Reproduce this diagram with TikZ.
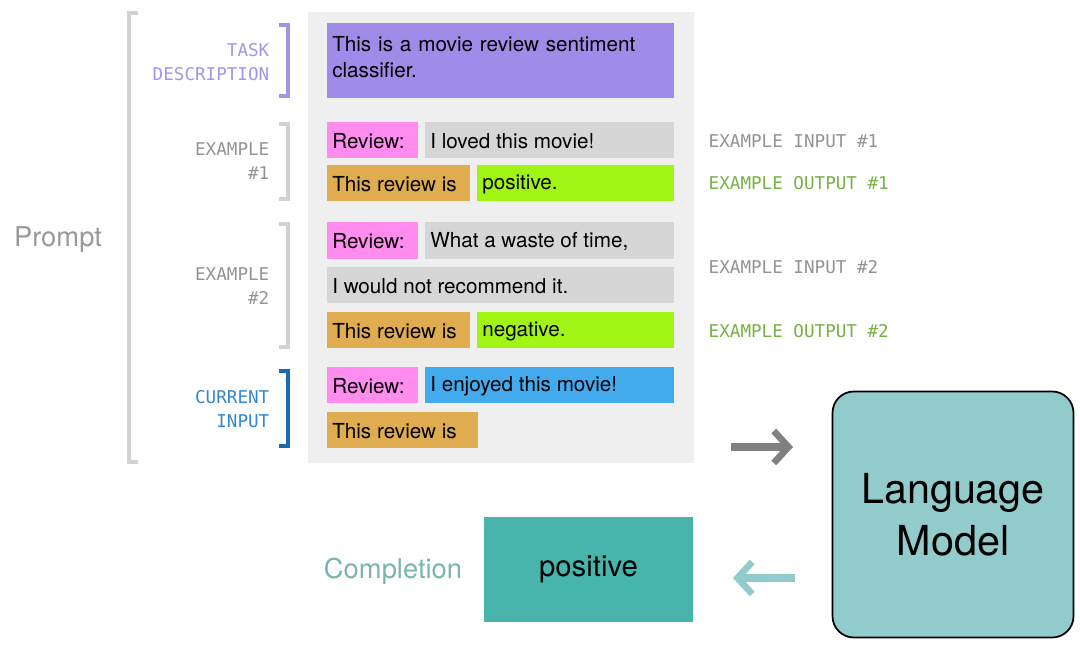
\documentclass[tikz,border=0pt]{standalone}
\usepackage{fontspec}
\setmainfont{TeX Gyre Heros}
\newfontfamily\monof{DejaVu Sans Mono}
\usetikzlibrary{arrows.meta}
\definecolor{panel}{HTML}{EFEFEF}
\definecolor{purp}{HTML}{9F8BE8}
\definecolor{purpt}{HTML}{A394E8}
\definecolor{pink}{HTML}{FF8CEE}
\definecolor{grayb}{HTML}{D6D6D6}
\definecolor{orng}{HTML}{E0AC50}
\definecolor{grn}{HTML}{A0F514}
\definecolor{blu}{HTML}{44AAEE}
\definecolor{blud}{HTML}{1A6AB0}
\definecolor{blut}{HTML}{3388CC}
\definecolor{grnt}{HTML}{77B044}
\definecolor{lm}{HTML}{92CBCC}
\definecolor{comp}{HTML}{47B5AC}
\definecolor{compt}{HTML}{7AB5AD}
\definecolor{brk}{HTML}{D2D2D2}
\begin{document}
\begin{tikzpicture}[x=0.75pt,y=-0.75pt,
 box/.style={inner sep=0pt,font=\fontsize{15.5}{20}\selectfont,text=black},
 lab/.style={font=\monof\fontsize{13.2}{18}\selectfont,align=right,anchor=east},
 rlab/.style={font=\monof\fontsize{13.2}{14}\selectfont,anchor=west},
 br/.style={line width=3pt}]
\useasboundingbox (0,0) rectangle (1080,645);
\fill[panel] (308,12) rectangle (694,463);
\newcommand{\bx}[6]{\fill[#5] (#1,#2) rectangle (#3,#4); \node[box,anchor=west] at (#1+5,{(#2+#4)/2+1}) {#6};}
% task
\fill[purp] (327,23) rectangle (674,98);
\node[box,anchor=north west,align=left,text width=330] (task) at (332,36) {This is a movie review sentiment\\classifier.};
\bx{327}{122}{418}{158}{pink}{Review:}
\bx{425}{122}{674}{158}{grayb}{I loved this movie!}
\bx{327}{165}{470}{201}{orng}{This review is}
\bx{477}{165}{674}{201}{grn}{positive.}
\bx{327}{222}{418}{259}{pink}{Review:}
\bx{425}{222}{674}{259}{grayb}{What a waste of time,}
\bx{327}{267}{674}{303}{grayb}{I would not recommend it.}
\bx{327}{312}{470}{348}{orng}{This review is}
\bx{477}{312}{674}{348}{grn}{negative.}
\bx{327}{367}{418}{403}{pink}{Review:}
\bx{425}{367}{674}{403}{blu}{I enjoyed this movie!}
\bx{327}{412}{478}{448}{orng}{This review is}
% brackets
\draw[br,brk] (138,13) -- (129,13) -- (129,462) -- (138,462);
\node[text=gray!80,font=\fontsize{20.5}{22}\selectfont] (prompt) at (58,240) {Prompt};
\draw[br,purpt] (279,25) -- (288,25) -- (288,96) -- (279,96);
\node[lab,text=purpt] (tl) at (274,62) {TASK\\DESCRIPTION};
\draw[br,brk] (279,124) -- (288,124) -- (288,199) -- (279,199);
\node[lab,text=gray!85] (e1) at (274,161) {EXAMPLE\\\#1};
\draw[br,brk] (279,224) -- (288,224) -- (288,347) -- (279,347);
\node[lab,text=gray!85] (e2) at (274,286) {EXAMPLE\\\#2};
\draw[br,blud] (279,371) -- (288,371) -- (288,446) -- (279,446);
\node[lab,text=blut] (ci) at (274,409) {CURRENT\\INPUT};
\node[rlab,text=gray!85] at (704,141) {EXAMPLE INPUT \#1};
\node[rlab,text=grnt] at (704,183) {EXAMPLE OUTPUT \#1};
\node[rlab,text=gray!85] at (704,267) {EXAMPLE INPUT \#2};
\node[rlab,text=grnt] at (704,331) {EXAMPLE OUTPUT \#2};
% model
\node[draw=black,line width=1.3pt,fill=lm,rounded corners=16pt,minimum width=241*0.75pt,minimum height=246*0.75pt,align=center,font=\fontsize{31}{39}\selectfont] (lm) at (953,514.5) {Language\\Model};
\coordinate (a1) at (731,447); \coordinate (a2) at (793,447);
\draw[gray,line width=6pt,-{Straight Barb[length=11pt,width=24pt,line width=5pt]}] (a1) -- (a2);
\coordinate (b1) at (795,578); \coordinate (b2) at (733,578);
\draw[lm,line width=6pt,-{Straight Barb[length=11pt,width=24pt,line width=5pt]}] (b1) -- (b2);
\node[fill=comp,minimum width=209*0.75pt,minimum height=105*0.75pt,font=\fontsize{22}{25}\selectfont] (c) at (588.5,569.5) {positive};
\node[text=compt,font=\fontsize{20.5}{22}\selectfont] (ct) at (393,571) {Completion};
\end{tikzpicture}
\end{document}
